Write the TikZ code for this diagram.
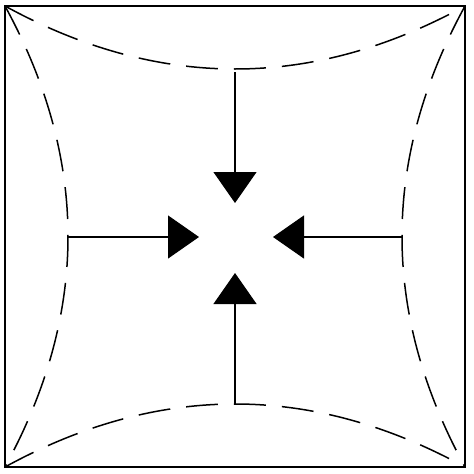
\documentclass[tikz,border=0pt]{standalone}
\usetikzlibrary{arrows.meta}
\begin{document}
\begin{tikzpicture}[x=1pt,y=-1pt,
  frame/.style={line width=1.4pt},
  dashcurve/.style={line width=1.5pt, dash pattern=on 32pt off 16pt},
  push/.style={line width=1.1pt, -{Triangle[length=31pt,width=43pt]}}]
\useasboundingbox (0,0) rectangle (474,474);
\coordinate (TL) at (5,6);
\coordinate (TR) at (465,6);
\coordinate (BL) at (5,467);
\coordinate (BR) at (465,467);
\draw[frame] (TL) rectangle (BR);
% dashed curves
\draw[dashcurve] (TL) .. controls (158.3,90) and (311.7,90) .. (TR);
\draw[dashcurve] (BL) .. controls (158.3,383) and (311.7,383) .. (BR);
\draw[dashcurve] (TL) .. controls (89,159.7) and (89,313.3) .. (BL);
\draw[dashcurve] (TR) .. controls (381,159.7) and (381,313.3) .. (BR);
% arrows
\coordinate (topS) at (235,72);
\coordinate (topE) at (235,203);
\coordinate (botS) at (235,404);
\coordinate (botE) at (235,273);
\coordinate (lefS) at (68,237);
\coordinate (lefE) at (199,237);
\coordinate (rigS) at (402,237);
\coordinate (rigE) at (273,237);
\draw[push] (topS) -- (topE);
\draw[push] (botS) -- (botE);
\draw[push] (lefS) -- (lefE);
\draw[push] (rigS) -- (rigE);
\end{tikzpicture}
\end{document}
